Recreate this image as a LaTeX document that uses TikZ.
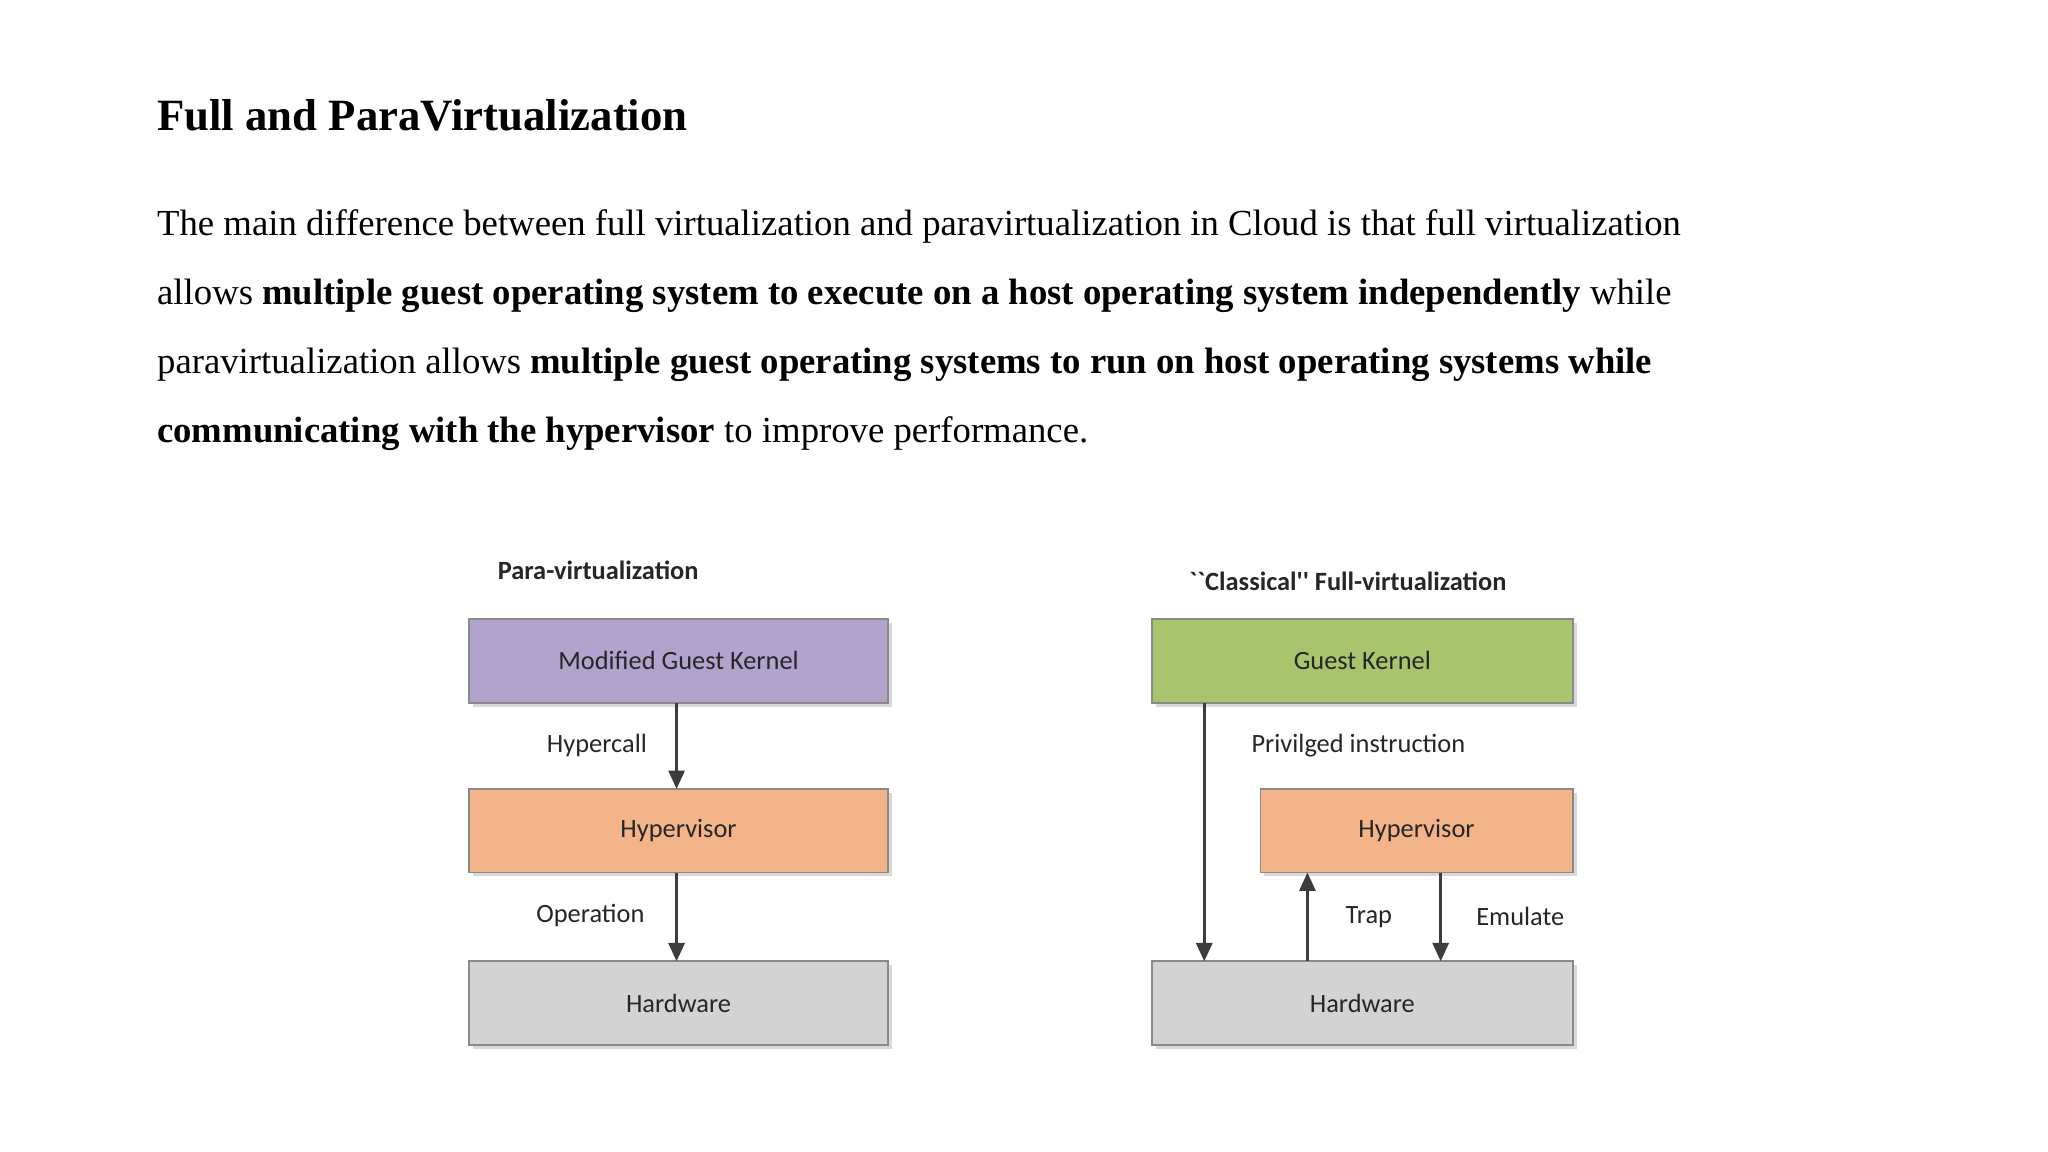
\documentclass[tikz,border=0pt]{standalone}
\usepackage{fontspec}
\setmainfont{Liberation Serif}
\newfontfamily\diag{Carlito}
\usetikzlibrary{arrows.meta}
\definecolor{cpur}{HTML}{B1A3CB}
\definecolor{corg}{HTML}{F3B489}
\definecolor{cgrn}{HTML}{A8C46C}
\definecolor{cgry}{HTML}{D3D3D3}
\definecolor{cedge}{HTML}{8A8A8A}
\definecolor{carr}{HTML}{3C3C3C}
\tikzset{
  box/.style={draw=cedge, line width=0.8pt, font=\diag\fontsize{11.5}{13}\selectfont, text=black!85},
  lbl/.style={font=\diag\fontsize{11.5}{13}\selectfont, text=black!85},
  ttl/.style={font=\diag\bfseries\fontsize{11.5}{13}\selectfont, text=black!85},
  arr/.style={draw=carr, line width=1.2pt, -{Triangle[width=7pt,length=8pt]}},
  body/.style={anchor=base west, inner sep=0pt, font=\fontsize{16}{19}\selectfont}
}
\newcommand{\mybox}[6]{%
  \fill[black!15] (#1+3,#2+3) rectangle (#3+3,#4+3);
  \node[box, fill=#5, minimum width={(#3-#1)*0.02cm}, minimum height={(#4-#2)*0.02cm}, inner sep=0pt] (#6) at ({(#1+#3)/2},{(#2+#4)/2}) {};
}
\begin{document}
\begin{tikzpicture}[x=0.02cm,y=-0.02cm]
\fill[white] (0,0) rectangle (1568,882);
\node[body, font=\bfseries\fontsize{19.5}{22}\selectfont] (title) at (120,100) {Full and ParaVirtualization};
\node[body] (l1) at (120,180) {The main difference between full virtualization and paravirtualization in Cloud is that full virtualization};
\node[body] (l2) at (120,233) {allows \textbf{multiple guest operating system to execute on a host operating system independently} while};
\node[body] (l3) at (120,286) {paravirtualization allows \textbf{multiple guest operating systems to run on host operating systems while}};
\node[body] (l4) at (120,339) {\textbf{communicating with the hypervisor} to improve performance.};

% left
\node[ttl] (pt) at (458,437) {Para-virtualization};
\mybox{359}{474}{680}{538}{cpur}{mgk}
\mybox{359}{604}{680}{668}{corg}{hv1}
\mybox{359}{736}{680}{800}{cgry}{hw1}
\node[lbl] at (mgk) {Modified Guest Kernel};
\node[lbl] at (hv1) {Hypervisor};
\node[lbl] at (hw1) {Hardware};
\draw[arr] (518,538) -- (518,604);
\draw[arr] (518,668) -- (518,736);
\node[lbl] (hc) at (457,571) {Hypercall};
\node[lbl] (op) at (452,701) {Operation};

% right
\node[ttl] (ft) at (1032,445) {``Classical'' Full-virtualization};
\mybox{882}{474}{1204}{538}{cgrn}{gk}
\mybox{965}{604}{1204}{668}{corg}{hv2}
\mybox{882}{736}{1204}{800}{cgry}{hw2}
\node[lbl] at (gk) {Guest Kernel};
\node[lbl] at (hv2) {Hypervisor};
\node[lbl] at (hw2) {Hardware};
\draw[arr] (922,538) -- (922,736);
\draw[arr] (1001,736) -- (1001,668);
\draw[arr] (1103,668) -- (1103,736);
\node[lbl] (pi) at (1040,571) {Privilged instruction};
\node[lbl] (tr) at (1048,702) {Trap};
\node[lbl] (em) at (1164,702) {Emulate};
\end{tikzpicture}
\end{document}
